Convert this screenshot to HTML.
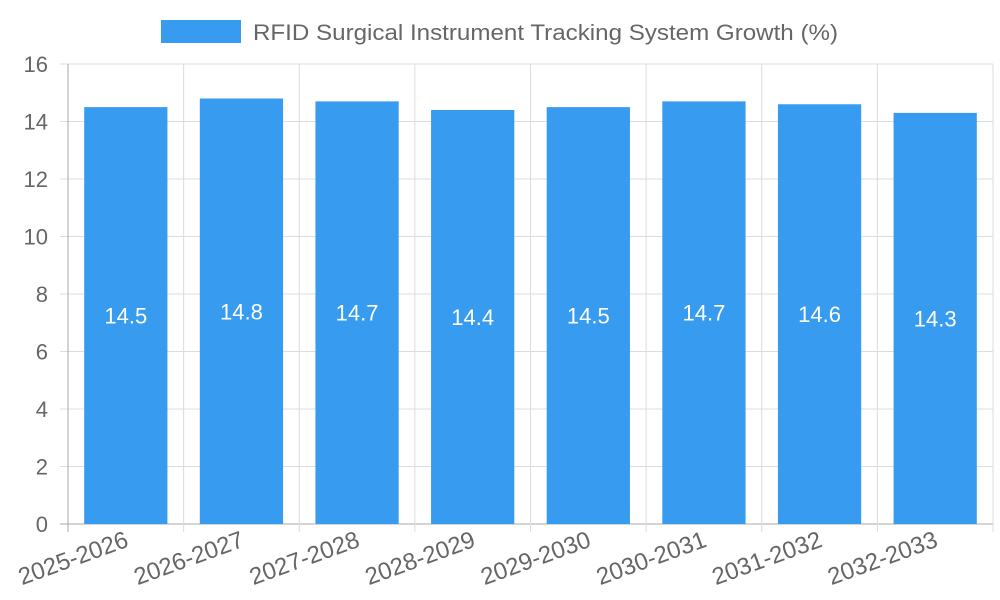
<!DOCTYPE html>
<html><head><meta charset="utf-8"><style>
body{margin:0;background:#fff;font-family:"Liberation Sans",sans-serif}
svg{display:block}
</style></head><body>
<svg id="chart" width="1000" height="600">
<g id="legend">
<rect x="161" y="20" width="80" height="23" fill="#379cf0"></rect>
<text x="253" y="40" font-size="22" textLength="585" lengthAdjust="spacingAndGlyphs" fill="#666">RFID Surgical Instrument Tracking System Growth (%)</text>
</g>
<g id="grid"></g><g id="bars"></g><g id="axes"></g>
</svg>
<script>
const categories=["2025-2026","2026-2027","2027-2028","2028-2029","2029-2030","2030-2031","2031-2032","2032-2033"];
const values=[14.5,14.8,14.7,14.4,14.5,14.7,14.6,14.3];
const yTicks=[0,2,4,6,8,10,12,14,16];
const L=68,R=993,T=64,B=524,yMax=16;
const ns="http://www.w3.org/2000/svg";
const y=v=>B-(v/yMax)*(B-T);
const cw=(R-L)/categories.length;
const x=i=>L+i*cw;
function mk(tag,attrs,parent,text){const e=document.createElementNS(ns,tag);for(const k in attrs)e.setAttribute(k,attrs[k]);if(text!==undefined)e.textContent=text;document.getElementById(parent).appendChild(e);return e;}
yTicks.forEach(t=>{
 const g=mk('line',{x1:L-8,x2:R,y1:y(t),y2:y(t),stroke:t===0?'#aaa':'#dcdcdc','stroke-width':1},'grid');
 
 
 const tx=mk('text',{x:L-20,y:y(t)+8,'text-anchor':'end','font-size':22,fill:'#666'},'axes',String(t));
 
 
});
for(let i=0;i<=categories.length;i++){
 const g=mk('line',{x1:x(i),x2:x(i),y1:T,y2:B+8,stroke:i===0?'#aaa':'#dcdcdc','stroke-width':1},'grid');
 
 
}
categories.forEach((c,i)=>{
 const bw=cw*0.72,bx=x(i)+(cw-bw)/2,v=values[i];
 const r=mk('rect',{x:bx,y:y(v),width:bw,height:B-y(v),fill:'#379cf0'},'bars');
 
 
 const t=mk('text',{x:bx+bw/2,y:(y(v)+B)/2+8,'text-anchor':'middle','font-size':22,fill:'#fff'},'bars',String(v));
 
 
 const cx=x(i)+cw/2+4;
 const xl=mk('text',{x:cx,y:546,'text-anchor':'end','font-size':24,fill:'#666',transform:`rotate(-20 ${cx} 546)`},'axes',c);
 
 
});
</script>
</body></html>
